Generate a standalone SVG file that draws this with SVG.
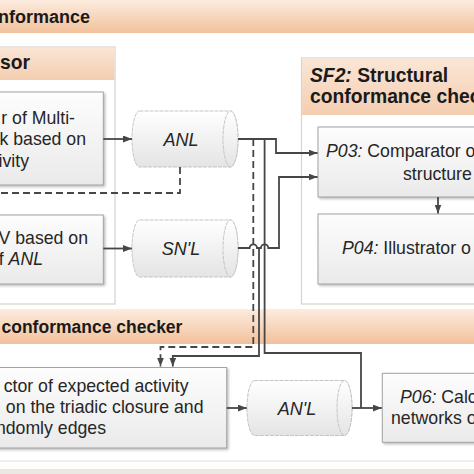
<svg xmlns="http://www.w3.org/2000/svg" width="474" height="474" viewBox="0 0 474 474">
<defs>
<linearGradient id="gBand" x1="0" y1="0" x2="0" y2="1">
<stop offset="0" stop-color="#fcecdf"/><stop offset="1" stop-color="#f2c19b"/>
</linearGradient>
<linearGradient id="gHead" x1="0" y1="0" x2="0" y2="1">
<stop offset="0" stop-color="#fae6d6"/><stop offset="1" stop-color="#f4cdb0"/>
</linearGradient>
<linearGradient id="gBox" x1="0" y1="0" x2="0" y2="1">
<stop offset="0" stop-color="#fdfdfd"/><stop offset="1" stop-color="#eaeaea"/>
</linearGradient>
<linearGradient id="gCyl" x1="0" y1="0" x2="0" y2="1">
<stop offset="0" stop-color="#ffffff"/><stop offset="1" stop-color="#e4e4e4"/>
</linearGradient>
<filter id="sh" x="-10%" y="-10%" width="130%" height="130%">
<feDropShadow dx="1.5" dy="1.5" stdDeviation="1" flood-color="#888" flood-opacity="0.55"/>
</filter>
<marker id="arr" markerUnits="userSpaceOnUse" markerWidth="10" markerHeight="8" refX="9" refY="3.5" orient="auto">
<path d="M0,0 L9,3.5 L0,7 z" fill="#474747"/>
</marker>
<style>
.hdr{font-family:'Liberation Sans',Arial,sans-serif;font-weight:bold;fill:#1a1a1a}
.t{font-family:'Liberation Sans',Arial,sans-serif;font-size:17.7px;fill:#262626}
.cy{font-family:'Liberation Sans',Arial,sans-serif;font-size:18px;font-style:italic;fill:#262626;text-anchor:middle}
.i{font-style:italic}
.box{fill:url(#gBox);stroke:#a3a3a3;stroke-width:1;filter:url(#sh)}
.panel{fill:#ffffff;stroke:#d8d2cc;stroke-width:1.2}
.cyl{fill:url(#gCyl);stroke:#c4c4c4;stroke-width:1;stroke-dasharray:4 1}
.conn{fill:none;stroke:#474747;stroke-width:1.8}
.dash{stroke-dasharray:7 4}
</style>
</defs>
<rect x="0" y="0" width="474" height="474" fill="#ffffff"/>

<g id="band-top">
<rect x="-2" y="0" width="478" height="33" fill="url(#gBand)"/>
<text class="hdr" x="-2" y="23" font-size="18">nformance</text>
</g>

<g id="panel-sf1">
<rect class="panel" x="-10" y="47" width="125" height="257"/>
<rect x="-10" y="47.6" width="124.4" height="32.4" fill="url(#gHead)"/>
<text class="hdr" x="0" y="69" font-size="19.3">sor</text>
</g>

<g id="panel-sf2">
<rect class="panel" x="301.5" y="58" width="190" height="246"/>
<rect x="302.1" y="58.6" width="190" height="56.4" fill="url(#gHead)"/>
<text class="hdr" x="310" y="81.5" font-size="19.3"><tspan class="i">SF2:</tspan> Structural</text>
<text class="hdr" x="310" y="103" font-size="19.3">conformance checker</text>
</g>

<g id="band-sf3">
<rect x="-2" y="309" width="478" height="35" fill="url(#gBand)"/>
<text class="hdr" x="1.5" y="333" font-size="17.5">conformance checker</text>
</g>

<g id="frame-bottom">
<line x1="0" y1="461" x2="474" y2="461" stroke="#e3ddd7" stroke-width="1.2"/>
<rect x="0" y="469" width="474" height="5" fill="#ece7e1"/>
</g>

<g id="P01">
<rect class="box" x="-20" y="92" width="123.3" height="93"/>
<text class="t" x="75" y="123.5" text-anchor="end">r of Multi-</text>
<text class="t" x="86" y="145" text-anchor="end">k based on</text>
<text class="t" x="29" y="166.5" text-anchor="end">ivity</text>
</g>

<g id="P02">
<rect class="box" x="-20" y="215" width="123.3" height="69"/>
<text class="t" x="88" y="243.5" text-anchor="end">V based on</text>
<text class="t" x="43" y="265" text-anchor="end">f <tspan class="i">ANL</tspan></text>
</g>

<g id="ANL">
<path class="cyl" d="M139.5,111 H230.5 A7.5,28 0 0 1 230.5,167 H139.5 A7.5,28 0 0 1 139.5,111 Z"/>
<ellipse class="cyl" cx="230.5" cy="139" rx="7.5" ry="28"/>
<text class="cy" x="181" y="145.5">ANL</text>
</g>

<g id="SNL">
<path class="cyl" d="M139.5,220 H230.5 A7.5,28.5 0 0 1 230.5,277 H139.5 A7.5,28.5 0 0 1 139.5,220 Z"/>
<ellipse class="cyl" cx="230.5" cy="248.5" rx="7.5" ry="28.5"/>
<text class="cy" x="181" y="254.5">SN'L</text>
</g>

<g id="P03">
<rect class="box" x="318" y="127" width="180" height="70"/>
<text class="t" x="326" y="157"><tspan class="i">P03:</tspan> Comparator o</text>
<text class="t" x="403" y="179.5">structure</text>
</g>

<g id="P04">
<rect class="box" x="318" y="214" width="180" height="70"/>
<text class="t" x="342" y="253.5"><tspan class="i">P04:</tspan> Illustrator o</text>
</g>

<g id="P05">
<rect class="box" x="-20" y="367.5" width="246.7" height="80.5"/>
<text class="t" x="188.5" y="391.5" text-anchor="end">ctor of expected activity</text>
<text class="t" x="203.5" y="413" text-anchor="end">on the triadic closure and</text>
<text class="t" x="106" y="434" text-anchor="end">ndomly edges</text>
</g>

<g id="ANpL">
<path class="cyl" d="M254.5,380.5 H344.5 A7.5,27.5 0 0 1 344.5,435.5 H254.5 A7.5,27.5 0 0 1 254.5,380.5 Z"/>
<ellipse class="cyl" cx="344.5" cy="408" rx="7.5" ry="27.5"/>
<text class="cy" x="297" y="414.5">AN'L</text>
</g>

<g id="P06">
<rect class="box" x="382.3" y="373.3" width="120" height="69"/>
<text class="t" x="400" y="402.5"><tspan class="i">P06:</tspan> Calc</text>
<text class="t" x="391" y="423.5">networks o</text>
</g>

<g id="connectors">
<path class="conn" d="M103.3,139 H132" marker-end="url(#arr)"/>
<path class="conn" d="M103.3,248.5 H132" marker-end="url(#arr)"/>
<path class="conn dash" d="M180,167 V193 H-5"/>
<path class="conn" d="M238,139 H276 V153 H317.5" marker-end="url(#arr)"/>
<path class="conn dash" d="M253.3,139 V347 H160.5 V366.5" marker-end="url(#arr)"/>
<path class="conn" d="M264.6,139 V353 H361 V408"/>
<path class="conn" d="M238,248 H249.6 A3.7,3.7 0 0 1 257,248 H260.9 A3.7,3.7 0 0 1 268.3,248 H279 V177 H317.5" marker-end="url(#arr)"/>
<path class="conn" d="M259,248 V356 H172.8 V366.5" marker-end="url(#arr)"/>
<path class="conn" d="M438,197 V213.5" marker-end="url(#arr)"/>
<path class="conn" d="M226.7,408 H246.8" marker-end="url(#arr)"/>
<path class="conn" d="M352,408 H381.8" marker-end="url(#arr)"/>
</g>
</svg>
